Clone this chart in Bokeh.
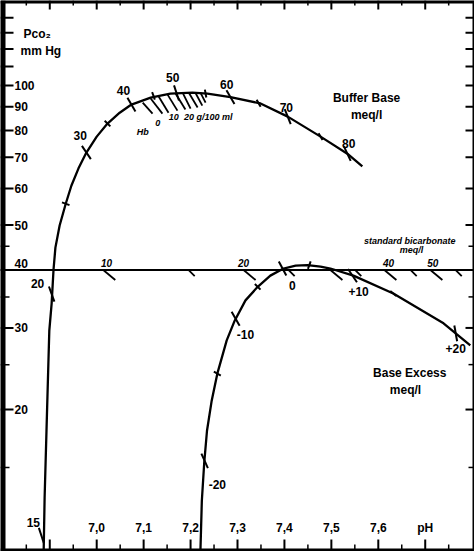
import numpy as np
from bokeh.plotting import figure
from bokeh.models import Range1d, Span
from bokeh.core.properties import value
from bokeh.embed import file_html
from bokeh.resources import INLINE

# ---------------- data ----------------
# pH axis
ph_major = [6.9, 7.0, 7.1, 7.2, 7.3, 7.4, 7.5, 7.6, 7.7]
ph_minor = [6.85, 6.95, 7.05, 7.15, 7.25, 7.35, 7.45, 7.55, 7.65, 7.75]
ph_label_pos = [7.0, 7.1, 7.2, 7.3, 7.4, 7.5, 7.6, 7.7]
ph_label_text = ["7,0", "7,1", "7,2", "7,3", "7,4", "7,5", "7,6", "pH"]

# Pco2 axis (log)
pco2_major = [20, 30, 40, 50, 60, 70, 80, 90, 100, 110, 120, 130, 140]
pco2_minor = [15, 25, 35, 45]
pco2_label_pos = [20, 30, 40, 50, 60, 70, 80, 90, 100]
pco2_label_text = ["20", "30", "40", "50", "60", "70", "80", "90", "100"]

# Buffer Base curve
bb_ph = [6.887, 6.889, 6.893, 6.897, 6.899, 6.904, 6.908, 6.912, 6.921, 6.934,
         6.946, 6.961, 6.978, 7.000, 7.023, 7.049, 7.074, 7.115, 7.157, 7.204,
         7.236, 7.285, 7.349, 7.407, 7.477, 7.534, 7.566]
bb_pco2 = [9.9, 12.9, 18.0, 25.1, 29.6, 33.9, 40.1, 44.7, 49.9, 55.6,
           60.8, 66.2, 71.7, 77.6, 82.8, 87.4, 91.0, 94.2, 96.1, 96.6,
           96.1, 94.4, 91.5, 85.7, 77.6, 71.3, 66.9]
bb_tick_val = [15, 20, 25, 30, 35, 40, 45, 50, 55, 60, 65, 70, 75, 80]
bb_tick_ph = [6.882, 6.904, 6.934, 6.978, 7.023, 7.074, 7.121, 7.170, 7.232,
              7.285, 7.345, 7.407, 7.477, 7.534]
bb_tick_pco2 = [10.7, 35.5, 55.6, 71.7, 82.8, 91.0, 95.0, 96.4, 96.1,
                94.4, 91.6, 85.7, 77.6, 71.3]
bb_label_text = ["15", "20", "30", "40", "50", "60", "70", "80"]
bb_label_ph = [6.865, 6.874, 6.965, 7.057, 7.162, 7.277, 7.404, 7.537]
bb_label_pco2 = [11.4, 37.4, 78.0, 97.5, 104.0, 100.5, 89.6, 75.0]

# Hb correction hatch (g/100 ml)
hb_ph0 = [7.098, 7.115, 7.132, 7.151, 7.168, 7.183, 7.196, 7.210, 7.221]
hb_pco2_0 = [91.9, 93.8, 94.7, 95.6, 96.1, 96.6, 96.6, 96.6, 96.6]
hb_ph1 = [7.119, 7.140, 7.153, 7.172, 7.189, 7.200, 7.215, 7.225, 7.232]
hb_pco2_1 = [87.0, 87.0, 87.4, 88.3, 88.8, 89.2, 89.7, 90.5, 91.9]

# Base Excess curve
be_ph = [7.221, 7.224, 7.229, 7.235, 7.245, 7.257, 7.277, 7.294, 7.317, 7.343,
         7.370, 7.398, 7.424, 7.449, 7.477, 7.498, 7.547, 7.632, 7.739, 7.796]
be_pco2 = [9.9, 12.7, 15.3, 18.0, 20.9, 23.9, 28.2, 31.1, 34.4, 36.8,
           38.9, 40.3, 40.9, 41.0, 40.7, 40.3, 38.9, 35.6, 30.7, 27.5]
be_tick_val = [-20, -15, -10, -5, 0, 5, 10, 15, 20]
be_tick_ph = [7.230, 7.257, 7.296, 7.343, 7.396, 7.453, 7.545, 7.632, 7.765]
be_tick_pco2 = [15.5, 23.9, 31.4, 36.8, 40.3, 41.0, 38.9, 35.6, 29.2]
be_label_text = ["-20", "-10", "0", "+10", "+20"]
be_label_ph = [7.257, 7.317, 7.417, 7.558, 7.765]
be_label_pco2 = [13.8, 29.0, 37.0, 35.9, 27.1]

# Standard bicarbonate scale (on the Pco2 = 40 line)
sbc_val = [10, 15, 20, 25, 30, 35, 40, 45, 50, 55]
sbc_ph = [7.014, 7.196, 7.313, 7.409, 7.498, 7.551, 7.613, 7.669, 7.711, 7.765]
sbc_label_text = ["10", "20", "40", "50"]
sbc_label_ph = [7.021, 7.313, 7.622, 7.716]

# ---------------- figure ----------------
W, H = 474, 551
X0, X1 = 6.795, 7.805
Y0, Y1 = 9.88, 152.6
PXX = (X1 - X0) / W                      # pH per pixel
PXY = (np.log10(Y1) - np.log10(Y0)) / H  # decades per pixel


def ym(px):
    return 10 ** (px * PXY)


FONT = value("Liberation Sans")

p = figure(width=W, height=H, output_backend="svg", toolbar_location=None,
           x_range=Range1d(X0, X1), y_range=Range1d(Y0, Y1), y_axis_type="log",
           min_border=0)
p.axis.visible = False
p.grid.visible = False
p.outline_line_color = None
p.background_fill_color = "white"
p.border_fill_color = "white"

# frame
p.add_layout(Span(location=X0, dimension="height", line_color="black", line_width=10))
p.add_layout(Span(location=X1, dimension="height", line_color="black", line_width=4))
p.add_layout(Span(location=Y0, dimension="width", line_color="black", line_width=6))
p.add_layout(Span(location=Y1, dimension="width", line_color="black", line_width=6))

# y ticks (left & right)
p.segment(x0=[X0] * len(pco2_major), y0=pco2_major,
          x1=[X0 + 13 * PXX] * len(pco2_major), y1=pco2_major,
          line_color="black", line_width=2)
p.segment(x0=[X0] * len(pco2_minor), y0=pco2_minor,
          x1=[X0 + 9 * PXX] * len(pco2_minor), y1=pco2_minor,
          line_color="black", line_width=1.5)
p.segment(x0=[X1] * len(pco2_major), y0=pco2_major,
          x1=[X1 - 9 * PXX] * len(pco2_major), y1=pco2_major,
          line_color="black", line_width=2)
p.segment(x0=[X1] * len(pco2_minor), y0=pco2_minor,
          x1=[X1 - 6 * PXX] * len(pco2_minor), y1=pco2_minor,
          line_color="black", line_width=1.5)

# x ticks (bottom & top)
p.segment(x0=ph_major, y0=[Y0] * len(ph_major), x1=ph_major,
          y1=[Y0 * ym(12)] * len(ph_major), line_color="black", line_width=2)
p.segment(x0=ph_minor, y0=[Y0] * len(ph_minor), x1=ph_minor,
          y1=[Y0 * ym(7)] * len(ph_minor), line_color="black", line_width=1.5)
p.segment(x0=ph_major, y0=[Y1] * len(ph_major), x1=ph_major,
          y1=[Y1 / ym(9)] * len(ph_major), line_color="black", line_width=2)
p.segment(x0=ph_minor, y0=[Y1] * len(ph_minor), x1=ph_minor,
          y1=[Y1 / ym(5)] * len(ph_minor), line_color="black", line_width=1.5)

# axis labels
ylab_off = [-7 if v == "40" else 0 for v in pco2_label_text]
p.text(x=[X0 + 14 * PXX] * len(pco2_label_pos), y=pco2_label_pos, text=pco2_label_text,
       y_offset=ylab_off, text_font=FONT, text_font_style="bold", text_font_size="12px",
       text_align="left", text_baseline="middle", text_color="black")
p.text(x=ph_label_pos, y=[Y0 * ym(24)] * len(ph_label_pos), text=ph_label_text,
       text_font=FONT, text_font_style="bold", text_font_size="12px",
       text_align="center", text_baseline="middle", text_color="black")
p.text(x=[X0 + 23 * PXX], y=[129.5], text=["Pco₂"], text_font=FONT,
       text_font_style="bold", text_font_size="12px", text_align="left",
       text_baseline="middle")
p.text(x=[X0 + 20 * PXX], y=[119.0], text=["mm Hg"], text_font=FONT,
       text_font_style="bold", text_font_size="12px", text_align="left",
       text_baseline="middle")

# Pco2 = 40 line (standard bicarbonate scale)
p.line(x=[X0, X1], y=[40, 40], line_color="black", line_width=2.2)
long_sbc = [v in (10, 20, 30, 40, 50) for v in sbc_val]
p.segment(x0=sbc_ph, y0=[40] * len(sbc_ph),
          x1=[ph + (12 if lg else 6) * PXX for ph, lg in zip(sbc_ph, long_sbc)],
          y1=[40 / ym(10 if lg else 6) for lg in long_sbc],
          line_color="black", line_width=1.8)
p.text(x=sbc_label_ph, y=[40 * ym(7)] * len(sbc_label_ph), text=sbc_label_text,
       text_font=FONT, text_font_style="bold italic", text_font_size="10px",
       text_align="center", text_baseline="middle")
p.text(x=[7.667], y=[46.3], text=["standard bicarbonate"], text_font=FONT,
       text_font_style="bold italic", text_font_size="9px", text_align="center",
       text_baseline="middle")
p.text(x=[7.671], y=[44.1], text=["meq/l"], text_font=FONT,
       text_font_style="bold italic", text_font_size="9px", text_align="center",
       text_baseline="middle")

# Buffer Base curve
p.line(x=bb_ph, y=bb_pco2, line_color="black", line_width=2.3, line_join="round")
bb_big = [v % 10 == 0 or v == 15 for v in bb_tick_val]
bb_ang = [-72, -70, -20, -56, -45, -60, -70, -72, -80, -60, -60, -68, -60, -65]
p.scatter(x=bb_tick_ph, y=bb_tick_pco2, marker="dash",
          size=[16 if b else 8 for b in bb_big], angle=bb_ang, angle_units="deg",
          line_color="black", line_width=2)
p.text(x=bb_label_ph, y=bb_label_pco2, text=bb_label_text, text_font=FONT,
       text_font_style="bold", text_font_size="12px", text_align="center",
       text_baseline="middle")
p.text(x=[7.575], y=[94.2], text=["Buffer Base"], text_font=FONT,
       text_font_style="bold", text_font_size="12px", text_align="center",
       text_baseline="middle")
p.text(x=[7.575], y=[86.2], text=["meq/l"], text_font=FONT,
       text_font_style="bold", text_font_size="12px", text_align="center",
       text_baseline="middle")

# Hb hatch
p.segment(x0=hb_ph0, y0=hb_pco2_0, x1=hb_ph1, y1=hb_pco2_1,
          line_color="black", line_width=1.8)
p.text(x=[7.098, 7.130, 7.164], y=[79.6, 83.2, 85.7], text=["Hb", "0", "10"],
       text_font=FONT, text_font_style="bold italic", text_font_size="9px",
       text_align="center", text_baseline="middle")
p.text(x=[7.186], y=[85.7], text=["20 g/100 ml"], text_font=FONT,
       text_font_style="bold italic", text_font_size="9px", text_align="left",
       text_baseline="middle")

# Base Excess curve
p.line(x=be_ph, y=be_pco2, line_color="black", line_width=2.3, line_join="round")
be_big = [v % 10 == 0 for v in be_tick_val]
be_ang = [-66, -30, -60, -45, -62, 70, -56, -40, -80]
p.scatter(x=be_tick_ph, y=be_tick_pco2, marker="dash",
          size=[16 if b else 8 for b in be_big], angle=be_ang, angle_units="deg",
          line_color="black", line_width=2)
p.text(x=be_label_ph, y=be_label_pco2, text=be_label_text, text_font=FONT,
       text_font_style="bold", text_font_size="12px", text_align="center",
       text_baseline="middle")
p.text(x=[7.667], y=[24.0], text=["Base Excess"], text_font=FONT,
       text_font_style="bold", text_font_size="12px", text_align="center",
       text_baseline="middle")
p.text(x=[7.658], y=[22.0], text=["meq/l"], text_font=FONT,
       text_font_style="bold", text_font_size="12px", text_align="center",
       text_baseline="middle")

open("out.html", "w").write(file_html(p, INLINE))
